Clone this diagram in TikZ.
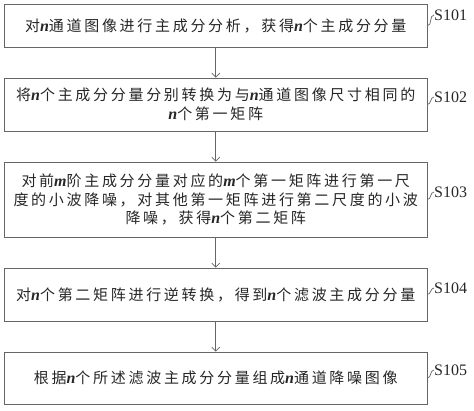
\documentclass[tikz,border=0pt]{standalone}
\usepackage{fontspec}
\newfontfamily\cjk[LetterSpace=18]{Noto Sans CJK SC}
\newfontfamily\lat{Liberation Serif}
\usetikzlibrary{arrows.meta}
\newcommand\vn{{\lat\bfseries\itshape\fontsize{16}{16}\selectfont n}}
\newcommand\vm{{\lat\bfseries\itshape\fontsize{16}{16}\selectfont m}}
\begin{document}
\begin{tikzpicture}[x=1pt,y=-1pt,
 stepbox/.style={draw=black!60, line width=0.8pt, minimum width=422.5pt, inner sep=0pt,
   font=\cjk\fontsize{15}{18.5}\selectfont, align=center, text=black!85},
 flow/.style={draw=black!60, line width=0.7pt, -{Straight Barb[length=4pt,width=8pt]}},
 lbl/.style={font=\lat\fontsize{16}{16}\selectfont, anchor=west, inner sep=0pt, text=black!85},
 tie/.style={draw=black!60, line width=0.7pt}]
\useasboundingbox (0,0) rectangle (474,410);
\node[stepbox, minimum height=42.5pt] (b1) at (215.75,25.75) {对\vn 通道图像进行主成分分析，获得\vn 个主成分分量};
\node[stepbox, minimum height=53pt] (b2) at (215.75,104.5) {将\vn 个主成分分量分别转换为与\vn 通道图像尺寸相同的\\\vn 个第一矩阵};
\node[stepbox, minimum height=75pt] (b3) at (215.75,199.5) {对前\vm 阶主成分分量对应的\vm 个第一矩阵进行第一尺\\度的小波降噪，对其他第一矩阵进行第二尺度的小波\\降噪，获得\vn 个第二矩阵};
\node[stepbox, minimum height=53pt] (b4) at (215.75,294.5) {对\vn 个第二矩阵进行逆转换，得到\vn 个滤波主成分分量};
\node[stepbox, minimum height=52pt] (b5) at (215.75,378) {根据\vn 个所述滤波主成分分量组成\vn 通道降噪图像};
\draw[flow] (b1) -- (b2);
\draw[flow] (b2) -- (b3);
\draw[flow] (b3) -- (b4);
\draw[flow] (b4) -- (b5);
\node[lbl] (l1) at (434,15) {S101};
\node[lbl] (l2) at (434,97) {S102};
\node[lbl] (l3) at (434,192) {S103};
\node[lbl] (l4) at (434,288) {S104};
\node[lbl] (l5) at (434,370) {S105};
\draw[tie] (b1.east) to[out=0,in=180] (l1.west);
\draw[tie] (b2.east) to[out=0,in=180] (l2.west);
\draw[tie] (b3.east) to[out=0,in=180] (l3.west);
\draw[tie] (b4.east) to[out=0,in=180] (l4.west);
\draw[tie] (b5.east) to[out=0,in=180] (l5.west);
\end{tikzpicture}
\end{document}
